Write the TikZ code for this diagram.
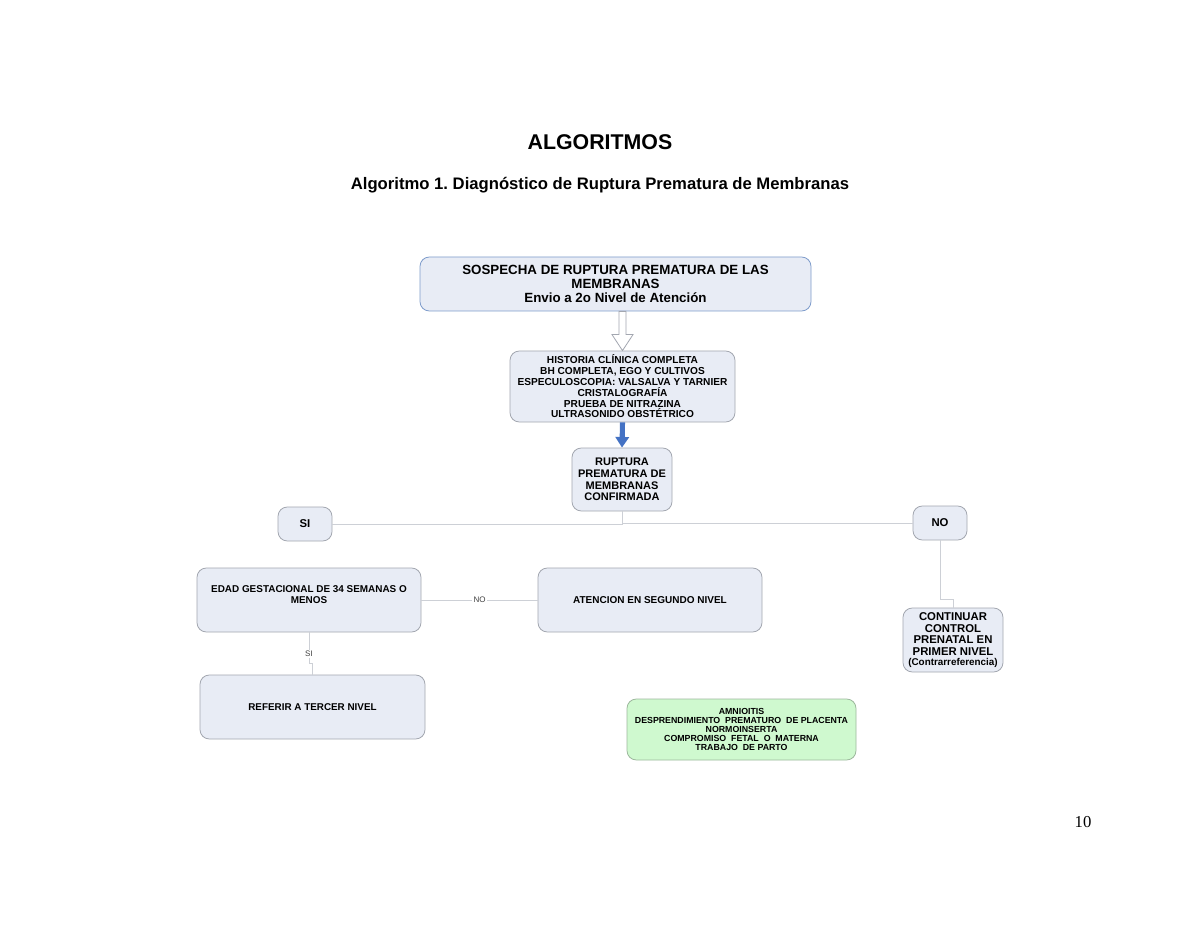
\documentclass[tikz,border=0pt]{standalone}
\usepackage{fontspec}
\setmainfont{Liberation Sans}
\newfontfamily\serifpn{Liberation Serif}
\usetikzlibrary{arrows.meta,calc}
\frenchspacing
\definecolor{boxfill}{HTML}{E8ECF5}
\definecolor{boxline}{HTML}{A3A7B0}
\definecolor{topline}{HTML}{7E9CCB}
\definecolor{connline}{HTML}{CDD0D6}
\definecolor{greenfill}{HTML}{CFF9CF}
\definecolor{greenline}{HTML}{9DB89D}
\definecolor{arrowblue}{HTML}{4472C4}
\tikzset{
  box/.style={draw=boxline, fill=boxfill, rounded corners=7pt, line width=0.6pt, inner sep=0pt, align=center},
  topbox/.style={box, draw=topline},
  greenbox/.style={box, draw=greenline, fill=greenfill},
  txt/.style={inner sep=0pt, align=center, font=\bfseries},
  conn/.style={draw=connline, line width=0.7pt},
  clabel/.style={fill=white, inner sep=1pt, font=\fontsize{6}{7}\selectfont, text=black!75},
  hollow/.style={draw=boxline, fill=white, line width=0.6pt, line join=miter},
  bluearrow/.style={draw=arrowblue, line width=3.8pt, -{Triangle[width=10pt, length=8pt]}}
}
\begin{document}
\begin{tikzpicture}[x=0.75pt, y=-0.75pt]
\useasboundingbox[fill=white] (0,0) rectangle (1200,927);

% titles
\node[txt, font=\fontsize{16}{18}\selectfont\bfseries] (title) at (600,142) {ALGORITMOS};
\node[txt, font=\fontsize{12.5}{14}\selectfont\bfseries] (subtitle) at (600,185) {Algoritmo 1. Diagnóstico de Ruptura Prematura de Membranas};

% boxes
\node[topbox, minimum width=293.25pt, minimum height=40.5pt, font=\fontsize{10}{10.5}\selectfont\bfseries] (top) at (615.5,284)
  {SOSPECHA DE RUPTURA PREMATURA DE LAS\\MEMBRANAS\\Envio a 2o Nivel de Atención};
\node[box, minimum width=168.75pt, minimum height=53.25pt, font=\fontsize{7.6}{8.1}\selectfont\bfseries] (hist) at (622.5,386.5)
  {HISTORIA CLÍNICA COMPLETA\\BH COMPLETA, EGO Y CULTIVOS\\ESPECULOSCOPIA: VALSALVA Y TARNIER\\CRISTALOGRAFÍA\\PRUEBA DE NITRAZINA\\ULTRASONIDO OBSTÉTRICO};
\node[box, minimum width=75pt, minimum height=47.25pt, font=\fontsize{8.25}{8.8}\selectfont\bfseries] (conf) at (622,479.5)
  {RUPTURA\\PREMATURA DE\\MEMBRANAS\\CONFIRMADA};
\node[box, minimum width=40.5pt, minimum height=25.5pt, font=\fontsize{8.5}{9}\selectfont\bfseries] (si) at (305,524) {SI};
\node[box, minimum width=40.5pt, minimum height=25.5pt, font=\fontsize{8.5}{9}\selectfont\bfseries] (no) at (940,523) {NO};
\node[box, minimum width=75pt, minimum height=48pt, font=\fontsize{8.5}{8.6}\selectfont\bfseries] (cont) at (953,640)
  {CONTINUAR\\CONTROL\\PRENATAL EN\\PRIMER NIVEL\\[-1pt]{\fontsize{7.4}{7.6}\selectfont(Contrarreferencia)}};
\node[box, minimum width=168pt, minimum height=48pt] (edad) at (309,600) {};
\node[txt, font=\fontsize{7.45}{8.2}\selectfont\bfseries] (edadtxt) at (309,594.5) {EDAD GESTACIONAL DE 34 SEMANAS O\\MENOS};
\node[box, minimum width=168pt, minimum height=48pt, font=\fontsize{7.5}{8}\selectfont\bfseries] (aten) at (650,600) {ATENCION EN SEGUNDO NIVEL};
\node[box, minimum width=168.75pt, minimum height=48pt, font=\fontsize{7.4}{8}\selectfont\bfseries] (refer) at (312.5,707) {REFERIR A TERCER NIVEL};
\node[greenbox, minimum width=171.75pt, minimum height=45.75pt, font=\fontsize{6.6}{6.75}\selectfont\bfseries] (green) at (741.5,729.5)
  {AMNIOITIS\\DESPRENDIMIENTO\ \ PREMATURO\ \ DE PLACENTA\\NORMOINSERTA\\COMPROMISO\ \ FETAL\ \ O\ \ MATERNA\\TRABAJO\ \ DE PARTO};

% page number
\node[inner sep=0pt, font=\serifpn\fontsize{12.5}{14}\selectfont] (pnum) at (1083,822) {10};

% hollow arrow top -> hist
\draw[hollow] ($(top.south -| hist.north)+(-3.5,0)$) -- ($(top.south -| hist.north)+(3.5,0)$) -- ($(hist.north)+(3.5,-16)$)
  -- ($(hist.north)+(10.5,-16)$) -- (hist.north) -- ($(hist.north)+(-10.5,-16)$)
  -- ($(hist.north)+(-3.5,-16)$) -- cycle;

% blue arrow hist -> conf
\draw[bluearrow] (hist.south) -- (conf.north);

% connectors
\draw[conn] (conf.south) |- (si.east);
\draw[conn] (conf.south) |- (no.west);
\coordinate (nobend) at (940,599);
\draw[conn] (no.south) -- (nobend) -| (cont.north);
\draw[conn] (edad.east) -- node[clabel] {NO} (aten.west);
\coordinate (sibend) at (309,663);
\draw[conn] (edad.south) -- node[clabel, pos=0.7] {SI} (sibend) -| (refer.north);
\end{tikzpicture}
\end{document}
